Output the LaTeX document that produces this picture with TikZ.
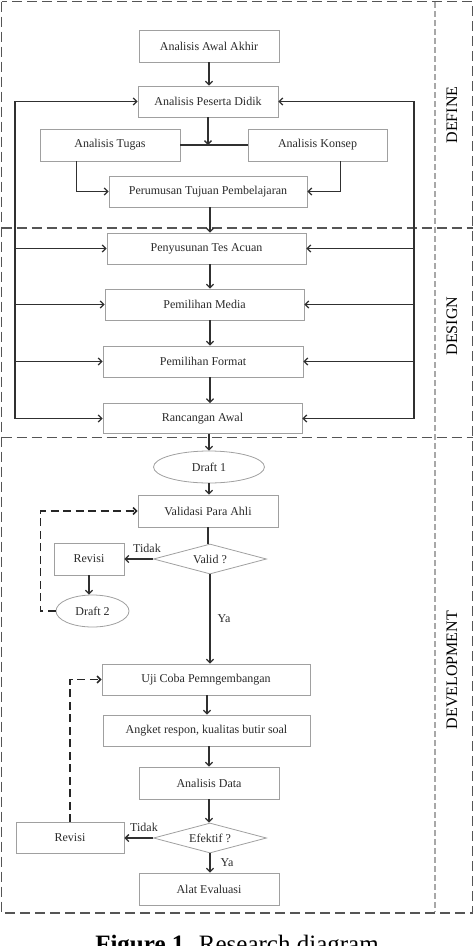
\documentclass[tikz,border=0pt]{standalone}
\usepackage{fontspec}
\setmainfont{Liberation Serif}
\usetikzlibrary{arrows.meta,shapes.geometric,calc}
\definecolor{boxc}{HTML}{A0A0A0}
\definecolor{txtc}{HTML}{2A2A2A}
\definecolor{arrc}{HTML}{303030}
\definecolor{framec}{HTML}{555555}
\definecolor{innerc}{HTML}{A8A8A8}
\begin{document}
\begin{tikzpicture}[x=1pt,y=-1pt,
  box/.style={draw=boxc, line width=0.8pt, inner sep=0pt, text=txtc,
    font=\fontsize{12}{14}\selectfont, minimum height=31pt},
  ell/.style={box, ellipse},
  dia/.style={box, diamond, aspect=3.7},
  arr/.style={draw=arrc, line width=1.3pt, -{Straight Barb[length=3.5pt,width=7pt]}},
  ln/.style={draw=arrc, line width=1.3pt},
  dloop/.style={draw=black!85, line width=1.5pt, dash pattern=on 8pt off 4.5pt,
    -{Straight Barb[length=3.5pt,width=7pt]}},
  frame/.style={draw=framec, line width=1.8pt, dash pattern=on 10pt off 5pt},
  innerl/.style={draw=innerc, line width=1.2pt, dash pattern=on 6pt off 3pt},
  lab/.style={rotate=90, font=\fontsize{16}{18}\selectfont, text=black, inner sep=0pt},
  yn/.style={font=\fontsize{12}{14}\selectfont, text=txtc, inner sep=0pt}]
\useasboundingbox (0,0) rectangle (474,946);

% frames
\draw[frame] (1.5,1.5) rectangle (472.5,913);
\draw[frame] (1.5,228) -- (472.5,228);
\draw[frame] (1.5,437.5) -- (472.5,437.5);
\draw[innerl] (435,2) -- (435,912);

\node[lab] (ldef) at (452,115) {DEFINE};
\node[lab] (ldes) at (452,326) {DESIGN};
\node[lab] (ldev) at (452,670) {DEVELOPMENT};

% define
\node[box, minimum width=140pt, minimum height=32pt] (aaa) at (209,46) {Analisis Awal Akhir};
\node[box, minimum width=140pt] (apd) at (208,101.5) {Analisis Peserta Didik};
\node[box, minimum width=140pt, minimum height=32pt] (at) at (110,145) {Analisis Tugas};
\node[box, minimum width=139pt, minimum height=32pt] (ak) at (317.5,145) {Analisis Konsep};
\node[box, minimum width=198pt] (ptp) at (208,191.5) {Perumusan Tujuan Pembelajaran};

% design
\node[box, minimum width=199pt] (pta) at (206.5,248.5) {Penyusunan Tes Acuan};
\node[box, minimum width=199pt] (pm) at (204.5,304.5) {Pemilihan Media};
\node[box, minimum width=200pt] (pf) at (203,361.5) {Pemilihan Format};
\node[box, minimum width=199pt, minimum height=30pt] (ra) at (202.5,418.5) {Rancangan Awal};

% development
\node[ell, minimum width=111pt, minimum height=32pt] (d1) at (209,467) {Draft 1};
\node[box, minimum width=140pt, minimum height=32pt] (val) at (208,511) {Validasi Para Ahli};
\node[dia, minimum width=113pt, minimum height=30pt] (vq) at (210,559) {Valid ?};
\node[box, minimum width=70pt, minimum height=32pt] (rev1) at (89,559) {Revisi};
\node[ell, minimum width=73pt, minimum height=32pt] (d2) at (92.5,611) {Draft 2};
\node[box, minimum width=208pt] (uji) at (206,679.5) {Uji Coba Pemngembangan};
\node[box, minimum width=207pt] (ang) at (206.5,730.5) {Angket respon, kualitas butir soal};
\node[box, minimum width=140pt, minimum height=32pt] (ad) at (209,783) {Analisis Data};
\node[dia, minimum width=113pt, minimum height=30pt] (eq) at (210,838) {Efektif ?};
\node[box, minimum width=108pt] (rev2) at (70,838) {Revisi};
\node[box, minimum width=140pt, minimum height=32pt] (ae) at (209,889) {Alat Evaluasi};

\node[yn] (t1) at (147,548) {Tidak};
\node[yn] (y1) at (224,619) {Ya};
\node[yn] (t2) at (144,827) {Tidak};
\node[yn] (y2) at (227,863) {Ya};

\coordinate (col) at (210,0);
\coordinate (col2) at (207,0);
\coordinate (fl) at (15,418.5);
\coordinate (fr) at (414,418.5);

% define arrows
\draw[arr] (aaa.south) -- (aaa.south |- apd.north);
\draw[ln] (at.east) -- (ak.west);
\draw[arr] (apd.south) -- (apd.south |- at.east);
\draw[arr] ([xshift=37pt]at.south west) |- (ptp.west);
\draw[arr] ([xshift=-47pt]ak.south east) |- (ptp.east);
\draw[arr] (ptp.south -| col) -- (pta.north -| col);
\draw[arr] (pta.south -| col) -- (pm.north -| col);
\draw[arr] (pm.south -| col) -- (pf.north -| col);
\draw[arr] (pf.south -| col) -- (ra.north -| col);
\draw[arr] (ra.south -| d1.north) -- (d1.north);

% feedback lines
\draw[arr] (fl) -- (fl |- apd.west) -- (apd.west);
\draw[arr] (fr) -- (fr |- apd.east) -- (apd.east);
\foreach \n in {pta,pm,pf,ra} {
  \draw[arr] (fl |- \n.west) -- (\n.west);
  \draw[arr] (fr |- \n.east) -- (\n.east);
}

% development arrows
\draw[arr] (d1.south) -- (d1.south |- val.north);
\draw[ln] (val.south) -- (val.south |- vq.north);
\draw[arr] (vq.west) -- (rev1.east);
\draw[arr] (rev1.south) -- (rev1.south |- d2.north);
\draw[dloop] (d2.west) -- ++(-15,0) |- (val.west);
\draw[arr] (vq.south) -- (vq.south |- uji.north);
\draw[arr] (uji.south -| col2) -- (ang.north -| col2);
\draw[arr] (ang.south -| ad.north) -- (ad.north);
\draw[arr] (ad.south) -- (ad.south |- eq.north);
\draw[arr] (eq.west) -- (rev2.east);
\draw[arr] (eq.south) -- (eq.south |- ae.north);
\draw[dloop] (rev2.north) |- (uji.west);

% caption (cut off by page edge)
\node[anchor=base, inner sep=0pt, font=\fontsize{25}{28}\selectfont] (cap) at (237,952)
  {\textbf{Figure 1.} Research diagram};
\end{tikzpicture}
\end{document}
